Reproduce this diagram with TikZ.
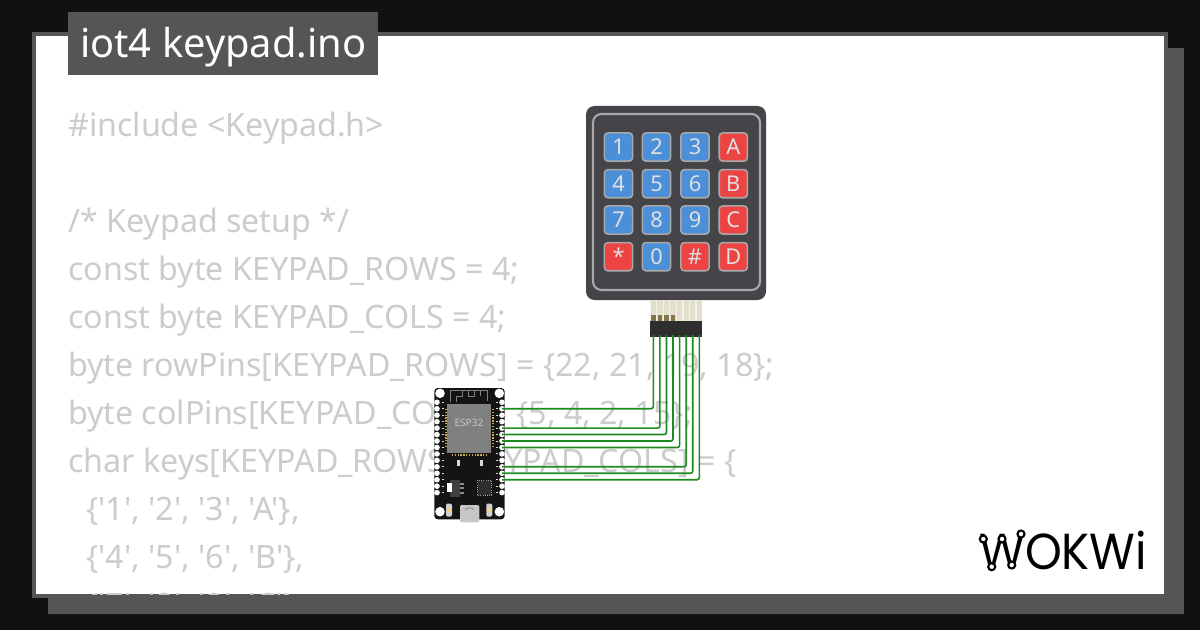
\documentclass[tikz,border=0pt]{standalone}
\usepackage{graphicx}
\usepackage{fontspec}
\setmainfont{Noto Sans}
\newfontfamily\codefont{Noto Sans}
\newfontfamily\logofont{Poppins}
\usetikzlibrary{positioning}
\definecolor{bgdark}{HTML}{111111}
\definecolor{framegray}{HTML}{555555}
\definecolor{codegray}{HTML}{CCCCCC}
\definecolor{padgray}{HTML}{454449}
\definecolor{ringgray}{HTML}{A9A9A9}
\definecolor{keyblue}{HTML}{4A8FD8}
\definecolor{keyred}{HTML}{EC4343}
\definecolor{wiregreen}{HTML}{1F8A1F}
\definecolor{goldpin}{HTML}{C8A84B}
\definecolor{ribbonlight}{HTML}{F3F2E8}
\definecolor{ribbonstrip}{HTML}{E2E0CC}
\definecolor{stubbrown}{HTML}{85754A}
\tikzset{
  codeline/.style={anchor=base west, inner sep=0pt, text=codegray, font=\codefont\fontsize{22.9}{22.9}\selectfont},
  padkey/.style={draw=ringgray, line width=1.1pt, rounded corners=2.4pt, minimum size=20pt, inner sep=0pt,
    text=white!88!black, font=\fontsize{15.5}{15.5}\selectfont},
  wire/.style={draw=wiregreen, line width=1.15pt, rounded corners=1.6pt},
  pinhole/.style={circle, fill=white, minimum size=4pt, inner sep=0pt},
  bighole/.style={circle, fill=white, minimum size=6.8pt, inner sep=0pt},
  silk/.style={draw=white!85!black, line width=0.6pt},
  led/.style={fill=white!82!black, rounded corners=1pt},
  lobe/.style={circle, draw=black, fill=white, line width=1.5pt, minimum size=5pt, inner sep=0pt}
}
\begin{document}
\begin{tikzpicture}[x=0.025cm,y=-0.025cm]
  \useasboundingbox (0,0) rectangle (1200,630);
  \fill[bgdark] (0,0) rectangle (1200,630);
  % frame and shadow
  \fill[framegray] (48,48) rectangle (1184,614);
  \fill[framegray] (32,32) rectangle (1168,598);
  \fill[white] (36,36) rectangle (1164,594);
  % code in the background
  \begin{scope}
    \clip (36,36) rectangle (1164,594);
    \node[codeline] (code1) at (68,136.5) {\#include <Keypad.h>};
    \node[codeline] (code3) at (68,232) {/* Keypad setup */};
    \node[codeline] (code4) at (68,280) {const byte KEYPAD\_ROWS = 4;};
    \node[codeline] (code5) at (68,328) {const byte KEYPAD\_COLS = 4;};
    \node[codeline] (code6) at (68,376) {byte rowPins[KEYPAD\_ROWS] = \{22, 21, 19, 18\};};
    \node[codeline] (code7) at (68,424) {byte colPins[KEYPAD\_COLS] = \{5, 4, 2, 15\};};
    \node[codeline] (code8) at (68,472) {char keys[KEYPAD\_ROWS][KEYPAD\_COLS] = \{};
    \node[codeline] (code9) at (86,520) {\{'1', '2', '3', 'A'\},};
    \node[codeline] (code10) at (86,568) {\{'4', '5', '6', 'B'\},};
    \node[codeline] (code11) at (86,616) {\{'7', '8', '9', 'C'\},};
  \end{scope}
  % title
  \fill[framegray] (68,12) rectangle (378,75);
  \node[anchor=base west, inner sep=0pt, text=white, font=\fontsize{28.3}{28.3}\selectfont] (title) at (80,58) {iot4 keypad.ino};
  % keypad
  \fill[padgray, rounded corners=6pt] (586,106) rectangle (766,300);
  \draw[ringgray, line width=1.5pt, rounded corners=6pt] (593,114) rectangle (760,290);
  \foreach \lbl/\kx/\ky/\kc in {1/618.5/147/keyblue, 2/656.5/147/keyblue, 3/695/147/keyblue, A/733.3/147/keyred,
      4/618.5/183.7/keyblue, 5/656.5/183.7/keyblue, 6/695/183.7/keyblue, B/733.3/183.7/keyred,
      7/618.5/220/keyblue, 8/656.5/220/keyblue, 9/695/220/keyblue, C/733.3/220/keyred,
      */618.5/256.7/keyred, 0/656.5/256.7/keyblue, \#/695/256.7/keyred, D/733.3/256.7/keyred}
    \node[padkey, fill=\kc] (key\kx-\ky) at (\kx,\ky) {\lbl};
  % ribbon and header
  \fill[ribbonlight] (650,300) rectangle (702,322);
  \foreach \i/\px in {1/653.3, 2/659.9, 3/666.5, 4/673, 5/679.6, 6/686.2, 7/692.7, 8/699.3} {
    \fill[ribbonstrip] (\px-2.6,300) rectangle (\px+2.6,322);
    \coordinate (kp\i) at (\px,335);
  }
  \foreach \px in {653.3, 659.9, 666.5, 673} \fill[stubbrown] (\px-2.4,315) rectangle (\px+2.4,321);
  \fill[black!82] (650.3,320.7) rectangle (702,337.3);
  % esp32 board
  \fill[black!92, rounded corners=2.5pt] (434.3,388) rectangle (504.7,519.3);
  \foreach \hx/\hy [count=\n] in {440/393.3, 499.3/393.3, 440/511.7, 499.3/511.7}
    \node[bighole] (hole\n) at (\hx,\hy) {};
  \foreach \k in {0,...,14} {
    \node[pinhole] (left\k) at (437,402.3+6.45*\k) {};
    \node[pinhole] (right\k) at (502,402.3+6.45*\k) {};
    \draw[silk] (441.5,402.3+6.45*\k) -- (444,402.3+6.45*\k);
    \draw[silk] (495.5,402.3+6.45*\k) -- (498,402.3+6.45*\k);
  }
  % antenna
  \draw[black!50, line width=0.7pt] (450,402) -- (450,390.5) -- (487,390.5) -- (487,401)
    (456,402) -- (456,396) -- (462,396) -- (462,391) (468,391) -- (468,396) -- (474,396) -- (474,391) (480,391) -- (480,396);
  % module
  \draw[goldpin, line width=1.6pt, dash pattern=on 1pt off 1pt] (445.8,409) -- (445.8,448) (492.8,409) -- (492.8,448);
  \draw[goldpin, line width=1.6pt, dash pattern=on 1pt off 1pt] (452,454.8) -- (487,454.8);
  \fill[black!50] (447.3,404.3) rectangle (491.3,453.3);
  \node[text=white!78!black, font=\fontsize{7.2}{7.2}\selectfont, inner sep=0pt] (chipname) at (469,423.3) {ESP32};
  \fill[white!85!black] (457,460) rectangle (459.6,466);
  \fill[white!85!black] (480.4,460) rectangle (483,466);
  % regulator and small chip
  \fill[black!75] (450,480) rectangle (460,497);
  \fill[white] (446.7,483) rectangle (451.7,491.7);
  \foreach \ry in {484,488.3,492.7} \fill[black!45] (460,\ry-1) rectangle (464,\ry+1);
  \fill[black!82] (478,480.5) rectangle (491,494.5);
  \draw[black!35, line width=0.6pt, dash pattern=on 0.7pt off 0.9pt] (477.3,480) rectangle (491.7,495);
  % leds and usb
  \foreach \lx in {449,489.3} {
    \fill[led] (\lx-3,503.5) rectangle (\lx+3,516.5);
    \fill[orange!45!yellow!70!white] (\lx,510) circle (1.9);
  }
  \fill[white!78!black, rounded corners=1pt] (460,505) rectangle (479.3,522.3);
  \draw[black!40, line width=0.8pt] (465,510) .. controls (467,507) and (472,507) .. (474,510);
  % wires
  \foreach \i/\k in {1/1, 2/4, 3/5, 4/6, 5/7, 6/10, 7/11, 8/12}
    \draw[wire] (kp\i) |- (right\k.center);
  % logo
  \node[anchor=base west, inner sep=0pt, text=black, font=\logofont\fontsize{36}{36}\selectfont] (logo) at (979,569) {\scalebox{0.925}[1]{WOKWi}};
  \foreach \lx/\ly [count=\n] in {983.3/539, 1002/539, 1021/534, 991.7/566.7, 1011.7/565}
    \node[lobe] (lobe\n) at (\lx,\ly) {};
\end{tikzpicture}
\end{document}
